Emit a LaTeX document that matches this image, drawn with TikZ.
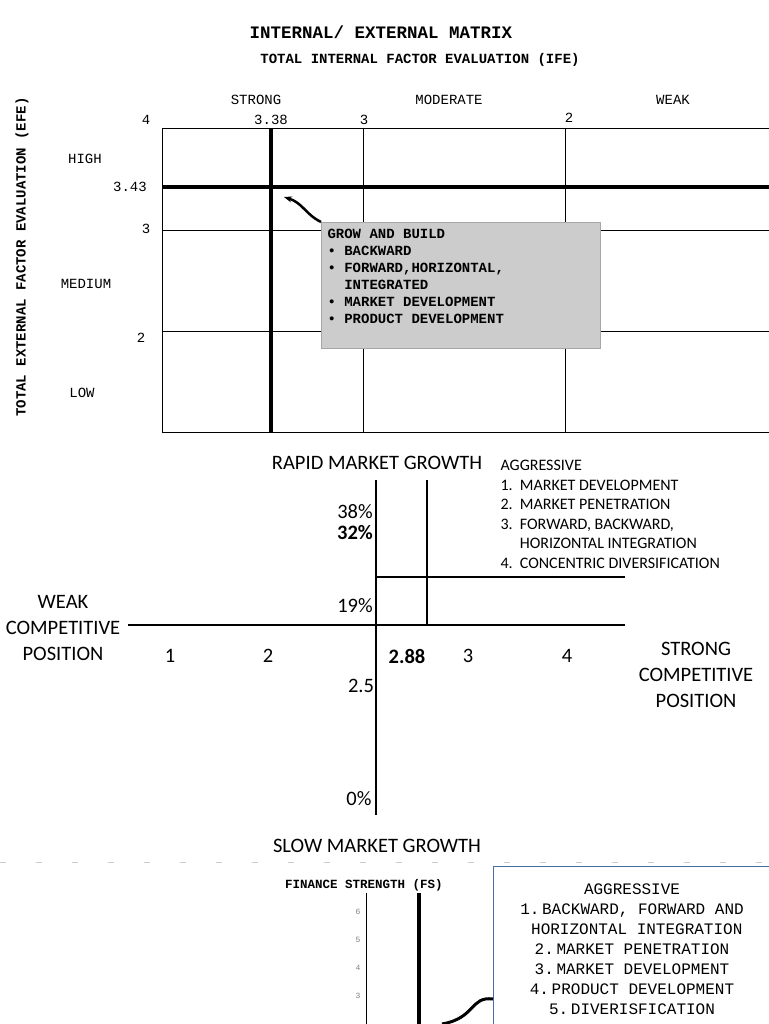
\documentclass[tikz,border=0pt]{standalone}
\usepackage{fontspec}
\setmainfont{Carlito}
\newfontfamily\mono{Liberation Mono}
\usetikzlibrary{arrows.meta}
\begin{document}
\begin{tikzpicture}[x=1pt,y=-1pt,
 thin line/.style={line width=0.6pt},
 thick line/.style={line width=3.5pt},
 mt/.style={font=\mono\fontsize{14}{17}\selectfont},
 mtb/.style={font=\mono\bfseries\fontsize{14}{17}\selectfont},
 big/.style={font=\fontsize{20.5}{26}\selectfont,align=center}]
\useasboundingbox (0,0) rectangle (768,1024);
% ---- IE matrix
\node[font=\mono\bfseries\fontsize{17.5}{20}\selectfont] (t1) at (381,32) {INTERNAL/ EXTERNAL MATRIX};
\node[mtb] (t2) at (420,60) {TOTAL INTERNAL FACTOR EVALUATION (IFE)};
\node[mtb,rotate=90] (t3) at (22,257) {TOTAL EXTERNAL FACTOR EVALUATION (EFE)};
\draw[thin line] (162,128) rectangle (780,432);
\draw[thin line] (363,128) -- (363,432) (565,128) -- (565,432) (162,230) -- (780,230) (162,331) -- (780,331);
\draw[thick line] (271,128) -- (271,432) (162,187) -- (780,187);
\foreach \n/\x/\y/\t in {s/256/100/STRONG,m/449/100/MODERATE,w/673/100/WEAK,a/146/120/4,b/271/120/3.38,c/364/120/3,d/569/118/2,h/85/159/HIGH,e/130/187/3.43,f/146/229/3,g/86/284/MEDIUM,i/141/338/2,l/82/393/LOW}
  \node[mt] (l\n) at (\x,\y) {\t};
\node[draw=gray!70,fill=gray!40,minimum width=279pt,minimum height=126pt,anchor=north west,inner sep=0] (gb) at (321,222) {};
\node[mtb,anchor=north west,align=left] (gt) at (324,226) {GROW AND BUILD\\
 \textbullet\ BACKWARD\\ \textbullet\ FORWARD,HORIZONTAL,\\ \ \ INTEGRATED\\ \textbullet\ MARKET DEVELOPMENT\\ \textbullet\ PRODUCT DEVELOPMENT};
\coordinate (ah) at (284,197);
\draw[line width=2.5pt,-{Stealth[length=8pt]}] (gb.north west) .. controls (305,214) and (303,203) .. (ah);
% ---- SPACE matrix
\node[big] (rm) at (377,463) {RAPID MARKET GROWTH};
\node[big] (sm) at (377,846) {SLOW MARKET GROWTH};
\node[anchor=north west,align=left,font=\fontsize{16}{19.5}\selectfont] (ag) at (497,457) {AGGRESSIVE\\
1.\ \ MARKET DEVELOPMENT\\2.\ \ MARKET PENETRATION\\3.\ \ FORWARD, BACKWARD,\\\phantom{3.\ \ }HORIZONTAL INTEGRATION\\4.\ \ CONCENTRIC DIVERSIFICATION};
\coordinate (vt) at (376,480); \coordinate (vb) at (376,815);
\coordinate (hl) at (128,625); \coordinate (hr) at (625,625);
\draw[line width=1.8pt] (vt) -- (vb) (hl) -- (hr);
\draw[line width=1.8pt] (427,480) -- (427,625) (376,577) -- (625,577);
\node[big] (wk) at (63,628) {WEAK\\COMPETITIVE\\POSITION};
\node[big] (st) at (696,675) {STRONG\\COMPETITIVE\\POSITION};
\foreach \n/\x/\y/\t in {p38/355/512/38\%,p19/355/606/19\%,p25/361/686/2.5,p0/359/799/0\%,x1/170/656/1,x2/268/656/2,x3/468/656/3,x4/567/656/4}
 \node[big] (\n) at (\x,\y) {\t};
\node[big,font=\bfseries\fontsize{20.5}{26}\selectfont] (p32) at (355,533) {32\%};
\node[big,font=\bfseries\fontsize{20.5}{26}\selectfont] (x288) at (407,656) {2.88};
% ---- bottom
\draw[gray!40,dash pattern=on 6pt off 30pt] (0,862) -- (768,862);
\node[font=\mono\bfseries\fontsize{12.5}{14}\selectfont] (fs) at (364,885) {FINANCE STRENGTH (FS)};
\draw[line width=1pt] (366,893) -- (366,1024);
\draw[line width=4.5pt] (419,893) -- (419,1024);
\foreach \n/\y/\t in {a/912/6,b/940/5,c/968/4,d/996/3}
 \node[font=\mono\fontsize{8}{9}\selectfont,gray] (k\n) at (358,\y) {\t};
\node[draw={rgb,255:red,70;green,110;blue,160},fill=white,minimum width=290pt,minimum height=170pt,anchor=north west,inner sep=0] (ab) at (493,866) {};
\node[font=\mono\fontsize{16}{20}\selectfont,align=center,anchor=north] (abt) at (632,880) {AGGRESSIVE\\1.\,BACKWARD, FORWARD AND\\ \ HORIZONTAL INTEGRATION\\2.\,MARKET PENETRATION\\3.\,MARKET DEVELOPMENT\\4.\,PRODUCT DEVELOPMENT\\5.\,DIVERISFICATION};
\coordinate (bh) at (442,1024);
\draw[line width=3pt] (493,999) .. controls (470,996) and (476,1018) .. (bh);
\end{tikzpicture}
\end{document}
